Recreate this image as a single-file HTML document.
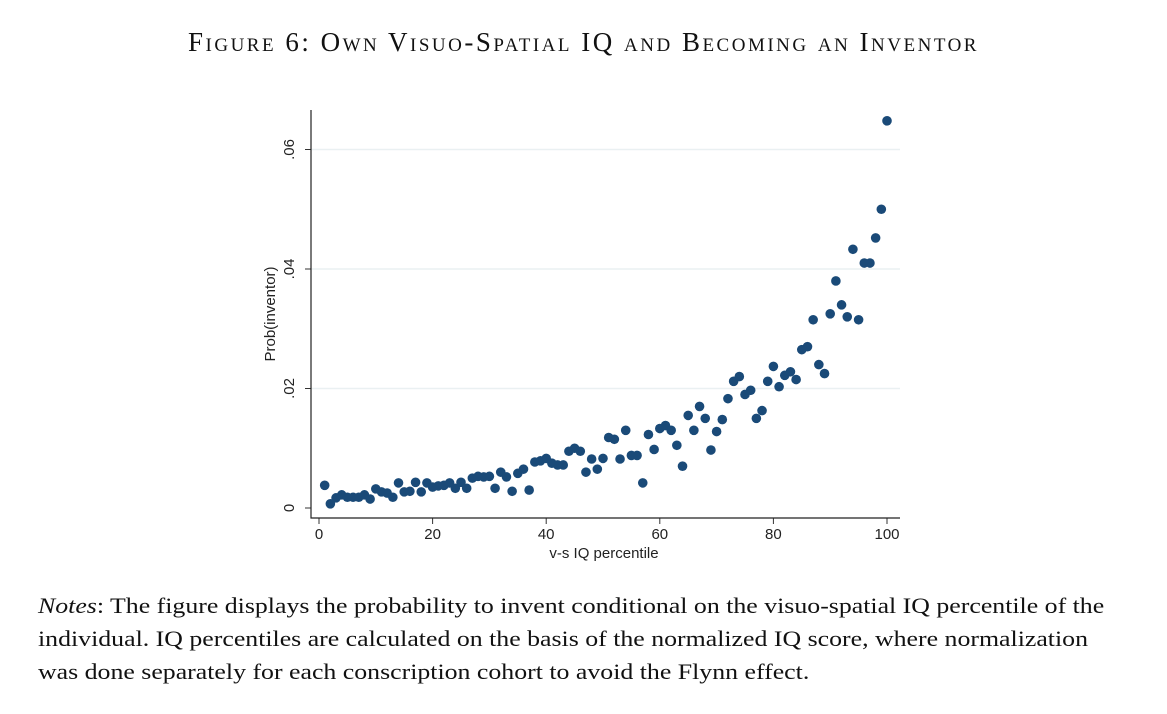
<!DOCTYPE html>
<html><head><meta charset="utf-8"><style>
body{margin:0;background:#fff;width:1167px;height:714px;overflow:hidden;font-family:"Liberation Serif",serif}
.title{position:absolute;top:27px;left:0;width:1167px;text-align:center;font-size:27px;font-variant:small-caps;letter-spacing:2.5px;color:#111;white-space:nowrap}
.notes{position:absolute;left:38px;top:590px;font-size:21.8px;line-height:33px;color:#111;white-space:nowrap;transform:scaleX(1.185);transform-origin:0 0}
svg{position:absolute;left:0;top:0}
</style></head><body>
<div class="title">Figure 6: Own Visuo-Spatial IQ and Becoming an Inventor</div>
<svg width="1167" height="714" id="chart"></svg>
<div class="notes"><i>Notes</i>: The figure displays the probability to invent conditional on the visuo-spatial IQ percentile of the<br>individual. IQ percentiles are calculated on the basis of the normalized IQ score, where normalization<br>was done separately for each conscription cohort to avoid the Flynn effect.</div>
<script>
const percentiles=[];for(let i=1;i<=100;i++)percentiles.push(i);
const probValues=[.0038,.0007,.0017,.0022,.0018,.0018,.0018,.0022,.0015,.0032,.0027,.0025,.0018,.0042,.0027,.0028,.0043,.0027,.0042,.0035,.0037,.0038,.0042,.0033,.0043,.0033,.005,.0053,.0052,.0053,.0033,.006,.0052,.0028,.0058,.0065,.003,.0077,.0079,.0083,.0075,.0072,.0072,.0095,.010,.0095,.006,.0082,.0065,.0083,.0118,.0115,.0082,.013,.0088,.0088,.0042,.0123,.0098,.0133,.0138,.013,.0105,.007,.0155,.013,.017,.015,.0097,.0128,.0148,.0183,.0212,.022,.019,.0197,.015,.0163,.0212,.0237,.0203,.0222,.0228,.0215,.0265,.027,.0315,.024,.0225,.0325,.038,.034,.032,.0433,.0315,.041,.041,.0452,.050,.0648];
const xTicks=[0,20,40,60,80,100];
const yTicks=[0,.02,.04,.06];
const yTickLabels=["0",".02",".04",".06"];
const svg=document.getElementById('chart');const NS='http://www.w3.org/2000/svg';
const X=v=>319+v*5.68, Y=v=>508-v*5975;
function mk(t,a,p){const e=document.createElementNS(NS,t);for(const k in a)e.setAttribute(k,a[k]);(p||svg).appendChild(e);return e;}
yTicks.forEach((v,i)=>{
 if(v>0){const g=mk('line',{x1:311,x2:900,y1:Y(v),y2:Y(v),stroke:'#eaf0f2','stroke-width':1.5});
 
 }
 const t=mk('line',{x1:305,x2:311,y1:Y(v),y2:Y(v),stroke:'#333'});
 
 
 const l=mk('text',{x:0,y:0,transform:`translate(294,${Y(v)}) rotate(-90)`,'text-anchor':'middle','font-size':15,'font-family':'Liberation Sans, sans-serif',fill:'#222'});
 l.textContent=yTickLabels[i];
 
 
});
xTicks.forEach(v=>{
 const t=mk('line',{x1:X(v),x2:X(v),y1:518,y2:524,stroke:'#333'});
 
 
 const l=mk('text',{x:X(v),y:539,'text-anchor':'middle','font-size':15,'font-family':'Liberation Sans, sans-serif',fill:'#222'});
 l.textContent=v;
 
 
});
const ax=mk('path',{d:'M311 110 V518 H900',fill:'none',stroke:'#222','stroke-width':1.2});


const xt=mk('text',{x:604,y:558,'text-anchor':'middle','font-size':15,'font-family':'Liberation Sans, sans-serif',fill:'#222'});
xt.textContent='v-s IQ percentile';


const yt=mk('text',{x:0,y:0,transform:'translate(275,314) rotate(-90)','text-anchor':'middle','font-size':15,'font-family':'Liberation Sans, sans-serif',fill:'#222'});
yt.textContent='Prob(inventor)';


percentiles.forEach((p,i)=>{
 const c=mk('circle',{cx:X(p),cy:Y(probValues[i]),r:4.8,fill:'#1a4a78'});
 
 
});
</script>
</body></html>
